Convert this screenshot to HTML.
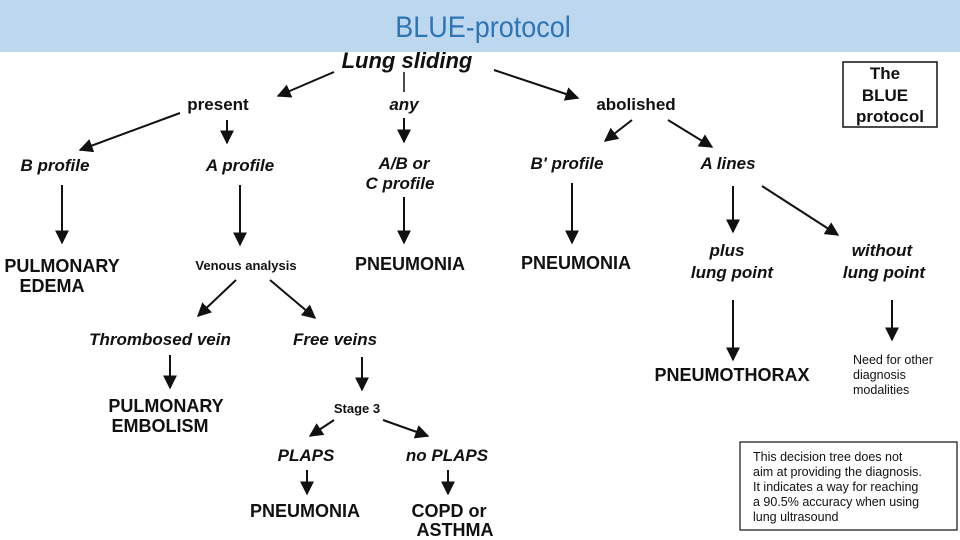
<!DOCTYPE html>
<html><head><meta charset="utf-8"><style>
html,body{margin:0;padding:0;background:#fff;}
svg{display:block;}
text{font-family:"Liberation Sans",Arial,sans-serif;fill:#111;}
.b{font-weight:bold;font-size:17px;}
.bi{font-weight:bold;font-style:italic;font-size:17px;}
.big{font-weight:bold;font-size:18px;}
</style></head><body>
<svg width="960" height="540" viewBox="0 0 960 540" xmlns="http://www.w3.org/2000/svg">
<defs><marker id="a" viewBox="0 0 10 10" refX="9" refY="5" markerWidth="7" markerHeight="7" orient="auto"><path d="M0,0 L10,5 L0,10 z" fill="#111"/></marker></defs>
<rect x="0" y="0" width="960" height="52" fill="#bdd7ee"/>
<text x="483" y="37" text-anchor="middle" font-size="30" style="fill:#2e75b6" transform="translate(483,0) scale(0.9,1) translate(-483,0)">BLUE-protocol</text>
<g stroke="#111" stroke-width="2" fill="none" marker-end="url(#a)">
<line x1="334" y1="72" x2="278" y2="96"/>
<line x1="494" y1="70" x2="578" y2="98"/>
<line x1="180" y1="113" x2="80" y2="150"/>
<line x1="227" y1="120" x2="227" y2="143"/>
<line x1="404" y1="118" x2="404" y2="142"/>
<line x1="632" y1="120" x2="605" y2="141"/>
<line x1="668" y1="120" x2="712" y2="147"/>
<line x1="62" y1="185" x2="62" y2="243"/>
<line x1="240" y1="185" x2="240" y2="245"/>
<line x1="404" y1="197" x2="404" y2="243"/>
<line x1="572" y1="183" x2="572" y2="243"/>
<line x1="733" y1="186" x2="733" y2="232"/>
<line x1="762" y1="186" x2="838" y2="235"/>
<line x1="236" y1="280" x2="198" y2="316"/>
<line x1="270" y1="280" x2="315" y2="318"/>
<line x1="170" y1="355" x2="170" y2="388"/>
<line x1="362" y1="357" x2="362" y2="390"/>
<line x1="334" y1="420" x2="310" y2="436"/>
<line x1="383" y1="420" x2="428" y2="436"/>
<line x1="307" y1="470" x2="307" y2="494"/>
<line x1="448" y1="470" x2="448" y2="494"/>
<line x1="733" y1="300" x2="733" y2="360"/>
<line x1="892" y1="300" x2="892" y2="340"/>
</g>
<line x1="404" y1="72" x2="404" y2="92" stroke="#111" stroke-width="1.5"/>
<text x="407" y="68" text-anchor="middle" class="bi" style="font-size:22px">Lung sliding</text>
<text x="218" y="110" text-anchor="middle" class="b">present</text>
<text x="404" y="110" text-anchor="middle" class="bi">any</text>
<text x="636" y="110" text-anchor="middle" class="b">abolished</text>
<text x="55" y="171" text-anchor="middle" class="bi">B profile</text>
<text x="240" y="171" text-anchor="middle" class="bi">A profile</text>
<text x="404" y="169" text-anchor="middle" class="bi">A/B or</text>
<text x="400" y="189" text-anchor="middle" class="bi">C profile</text>
<text x="567" y="169" text-anchor="middle" class="bi">B' profile</text>
<text x="728" y="169" text-anchor="middle" class="bi">A lines</text>
<text x="62" y="272" text-anchor="middle" class="big">PULMONARY</text>
<text x="52" y="292" text-anchor="middle" class="big">EDEMA</text>
<text x="246" y="270" text-anchor="middle" font-weight="bold" font-size="13">Venous analysis</text>
<text x="410" y="270" text-anchor="middle" class="big">PNEUMONIA</text>
<text x="576" y="269" text-anchor="middle" class="big">PNEUMONIA</text>
<text x="727" y="256" text-anchor="middle" class="bi">plus</text>
<text x="732" y="278" text-anchor="middle" class="bi">lung point</text>
<text x="882" y="256" text-anchor="middle" class="bi">without</text>
<text x="884" y="278" text-anchor="middle" class="bi">lung point</text>
<text x="160" y="345" text-anchor="middle" class="bi">Thrombosed vein</text>
<text x="335" y="345" text-anchor="middle" class="bi">Free veins</text>
<text x="853" y="364" font-size="12.5">Need for other</text>
<text x="853" y="379" font-size="12.5">diagnosis</text>
<text x="853" y="394" font-size="12.5">modalities</text>
<text x="732" y="381" text-anchor="middle" class="big">PNEUMOTHORAX</text>
<text x="166" y="412" text-anchor="middle" class="big">PULMONARY</text>
<text x="160" y="432" text-anchor="middle" class="big">EMBOLISM</text>
<text x="357" y="413" text-anchor="middle" font-weight="bold" font-size="13">Stage 3</text>
<text x="306" y="461" text-anchor="middle" class="bi">PLAPS</text>
<text x="447" y="461" text-anchor="middle" class="bi">no PLAPS</text>
<text x="305" y="517" text-anchor="middle" class="big">PNEUMONIA</text>
<text x="449" y="517" text-anchor="middle" class="big">COPD or</text>
<text x="455" y="536" text-anchor="middle" class="big">ASTHMA</text>
<rect x="843" y="62" width="94" height="65" fill="none" stroke="#111" stroke-width="1.5"/>
<text x="885" y="79" text-anchor="middle" class="b">The</text>
<text x="885" y="101" text-anchor="middle" class="b">BLUE</text>
<text x="890" y="122" text-anchor="middle" class="b">protocol</text>
<rect x="740" y="442" width="217" height="88" fill="none" stroke="#111" stroke-width="1.2"/>
<g font-size="12.5"><text x="753" y="461">This decision tree does not</text>
<text x="753" y="476">aim at providing the diagnosis.</text>
<text x="753" y="491">It indicates a way for reaching</text>
<text x="753" y="506">a 90.5% accuracy when using</text>
<text x="753" y="521">lung ultrasound</text></g>
</svg>
</body></html>
